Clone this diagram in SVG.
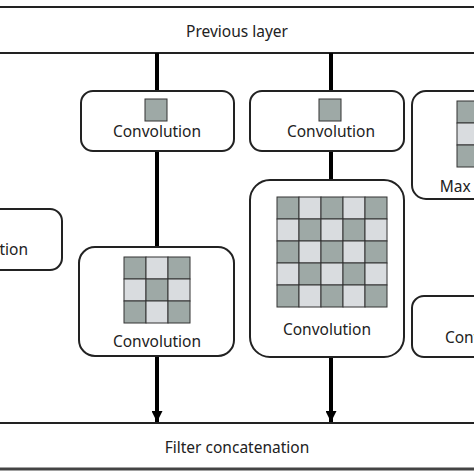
<svg xmlns="http://www.w3.org/2000/svg" width="474" height="474" viewBox="0 0 474 474">
<style>
.box{fill:#fff;stroke:#222;stroke-width:2}
.t{font-family:"Noto Sans","Open Sans",sans-serif;font-size:15.5px;fill:#222;text-anchor:middle}
.d{fill:#9ea9a6;stroke:#333;stroke-width:1}
.l{fill:#d9dcdf;stroke:#333;stroke-width:1}
.c{stroke:#000;stroke-width:4;fill:none}
</style>
<defs>
<marker id="ah" markerWidth="11" markerHeight="11" refX="11" refY="5.5" orient="auto" markerUnits="userSpaceOnUse" viewBox="0 0 11 11">
<path d="M0,0 L11,5.5 L0,11 Z" fill="#000"/>
</marker>
</defs>
<rect width="474" height="474" fill="#fff"/>
<g id="previous-layer">
<line x1="0" y1="7" x2="474" y2="7" stroke="#222" stroke-width="2"/>
<line x1="0" y1="53" x2="474" y2="53" stroke="#222" stroke-width="2"/>
<text class="t" x="237" y="37">Previous layer</text>
</g>
<g id="filter-concat">
<line x1="0" y1="423" x2="474" y2="423" stroke="#222" stroke-width="2"/>
<line x1="0" y1="469" x2="474" y2="469" stroke="#444" stroke-width="3"/>
<text class="t" x="237" y="453">Filter concatenation</text>
</g>
<g id="connectors">
<line class="c" x1="157" y1="53" x2="157" y2="91"/>
<line class="c" x1="331" y1="53" x2="331" y2="91"/>
<line class="c" x1="157" y1="151" x2="157" y2="247"/>
<line class="c" x1="331" y1="151" x2="331" y2="180"/>
<line class="c" x1="157" y1="356" x2="157" y2="422" marker-end="url(#ah)"/>
<line class="c" x1="331" y1="357" x2="331" y2="422" marker-end="url(#ah)"/>
</g>
<g id="conv1x1-a">
<rect class="box" x="81" y="91" width="153" height="60" rx="12"/>
<rect class="d" x="145" y="99" width="22" height="22"/>
<text class="t" x="157" y="137">Convolution</text>
</g>
<g id="conv1x1-b">
<rect class="box" x="250" y="91" width="154" height="60" rx="12"/>
<rect class="d" x="319" y="99" width="22" height="22"/>
<text class="t" x="331" y="137">Convolution</text>
</g>
<g id="maxpool">
<rect class="box" x="412" y="91" width="120" height="108" rx="14"/>
<rect class="d" x="457" y="101" width="22" height="22"/>
<rect class="l" x="457" y="123" width="22" height="22"/>
<rect class="d" x="457" y="145" width="22" height="22"/>
<text class="t" x="485" y="192">Max pooling</text>
</g>
<g id="conv-left">
<rect class="box" x="-94" y="209" width="156" height="61" rx="12"/>
<text class="t" x="-16" y="255">Convolution</text>
</g>
<g id="conv3x3">
<rect class="box" x="79" y="247" width="155" height="109" rx="16"/>
<rect class="d" x="124" y="257" width="22" height="22"/>
<rect class="l" x="146" y="257" width="22" height="22"/>
<rect class="d" x="168" y="257" width="22" height="22"/>
<rect class="l" x="124" y="279" width="22" height="22"/>
<rect class="d" x="146" y="279" width="22" height="22"/>
<rect class="l" x="168" y="279" width="22" height="22"/>
<rect class="d" x="124" y="301" width="22" height="22"/>
<rect class="l" x="146" y="301" width="22" height="22"/>
<rect class="d" x="168" y="301" width="22" height="22"/>
<text class="t" x="157" y="347">Convolution</text>
</g>
<g id="conv5x5">
<rect class="box" x="250" y="180" width="154" height="177" rx="20"/>
<g transform="translate(277,197)">
<rect class="d" x="0" y="0" width="22" height="22"/><rect class="l" x="22" y="0" width="22" height="22"/><rect class="d" x="44" y="0" width="22" height="22"/><rect class="l" x="66" y="0" width="22" height="22"/><rect class="d" x="88" y="0" width="22" height="22"/>
<rect class="l" x="0" y="22" width="22" height="22"/><rect class="d" x="22" y="22" width="22" height="22"/><rect class="l" x="44" y="22" width="22" height="22"/><rect class="d" x="66" y="22" width="22" height="22"/><rect class="l" x="88" y="22" width="22" height="22"/>
<rect class="d" x="0" y="44" width="22" height="22"/><rect class="l" x="22" y="44" width="22" height="22"/><rect class="d" x="44" y="44" width="22" height="22"/><rect class="l" x="66" y="44" width="22" height="22"/><rect class="d" x="88" y="44" width="22" height="22"/>
<rect class="l" x="0" y="66" width="22" height="22"/><rect class="d" x="22" y="66" width="22" height="22"/><rect class="l" x="44" y="66" width="22" height="22"/><rect class="d" x="66" y="66" width="22" height="22"/><rect class="l" x="88" y="66" width="22" height="22"/>
<rect class="d" x="0" y="88" width="22" height="22"/><rect class="l" x="22" y="88" width="22" height="22"/><rect class="d" x="44" y="88" width="22" height="22"/><rect class="l" x="66" y="88" width="22" height="22"/><rect class="d" x="88" y="88" width="22" height="22"/>
</g>
<text class="t" x="327" y="335">Convolution</text>
</g>
<g id="conv-right">
<rect class="box" x="412" y="296" width="140" height="61" rx="12"/>
<text class="t" x="489" y="343">Convolution</text>
</g>
</svg>
